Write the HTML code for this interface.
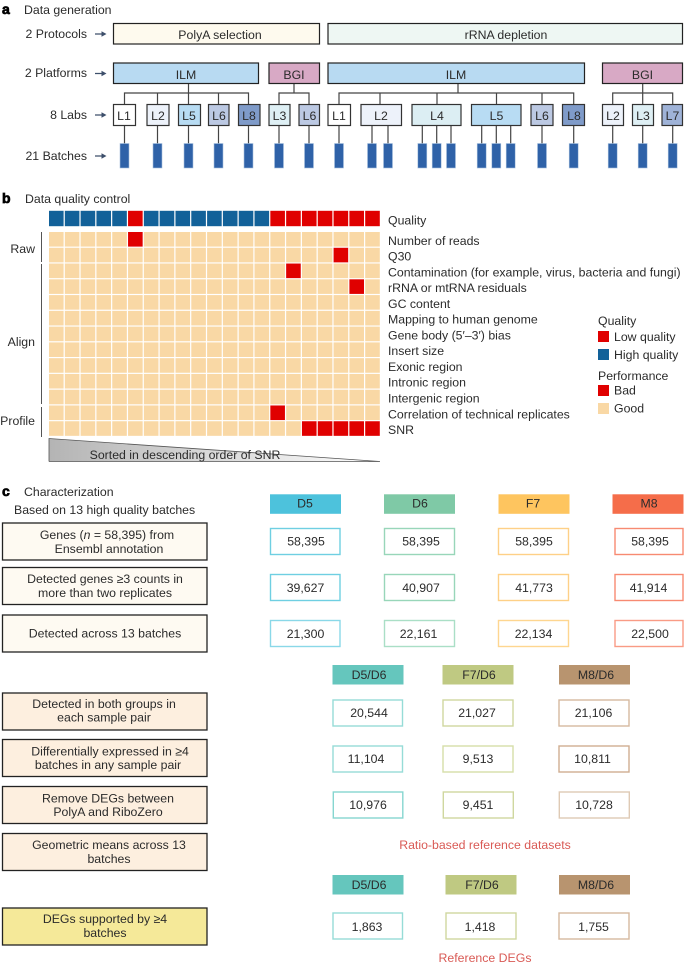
<!DOCTYPE html>
<html lang="en"><head><meta charset="utf-8"><title>Data generation, quality control and characterization</title>
<style>
html,body{margin:0;padding:0;background:#fff}
svg{display:block}
text{font-family:"Liberation Sans",sans-serif;font-size:12.3px;fill:#2b2b2b}
.m{text-anchor:middle}
.e{text-anchor:end}
.h{font-size:14px;font-weight:bold;fill:#000;stroke:#000;stroke-width:.7px}
.red{fill:#d95a55}
.lab{stroke:#333;stroke-width:1.2}
.plat{stroke:#222;stroke-width:1.2}
.bat{fill:#2f62a8;stroke:#a9c2de;stroke-width:.6}
.conn{fill:none;stroke:#444;stroke-width:1.2}
.box{stroke:#222;stroke-width:1.3}
.val{fill:#fff;stroke-width:1.4}
.arrow{fill:none;stroke:#3d4f6b;stroke-width:1.3}
.arrowhead{fill:#3d4f6b}
</style></head>
<body>
<svg id="figure" width="685" height="965" viewBox="0 0 685 965" xmlns="http://www.w3.org/2000/svg">
<defs><linearGradient id="sortGrad" x1="0" x2="1" y1="0" y2="0"><stop offset="0" stop-color="#b4b4b4"/><stop offset="1" stop-color="#ffffff"/></linearGradient></defs>

<g>
<text class="h" x="2" y="14">a</text>
<text x="24" y="14">Data generation</text>
<text class="e" x="87" y="38">2 Protocols</text>
<text class="e" x="87" y="77">2 Platforms</text>
<text class="e" x="87" y="119">8 Labs</text>
<text class="e" x="87" y="160">21 Batches</text>
<g>
<path class="arrow" d="M95 34H103M95 73.500H103M95 115H103M95 156H103"/>
<path class="arrowhead" d="M106.500 34l-5-2.800v5.600zM106.500 73.500l-5-2.800v5.600zM106.500 115l-5-2.800v5.600zM106.500 156l-5-2.800v5.600z"/>
</g>
<g>
<path class="conn" d="M188.500 83.500V104.500M124.500 104.500V93H248.500V104.500M157.500 93V104.500M218.500 93V104.500"/>
<path class="conn" d="M294 83.500V93M279 104.500V93H309V104.500"/>
<path class="conn" d="M458 83.500V93M339 104.500V93H573.700V104.500M380 93V104.500M437 93V104.500M496.500 93V104.500M542 93V104.500"/>
<path class="conn" d="M642.700 83.500V104.500M612.700 104.500V93H672.700V104.500"/>
<path class="conn" d="M124.500 125V144M157.500 125V144M188.500 125V144M218.500 125V144M248.500 125V144M279 125V144M309 125V144M339 125V144M372 125V144M388 125V144M422.300 125V144M436.700 125V144M451 125V144M481.700 125V144M496.300 125V144M510.700 125V144M542 125V144M573.700 125V144M612.700 125V144M642.700 125V144M672.700 125V144"/>
</g>
<rect class="plat" x="113.500" y="23.500" width="206" height="20.500" fill="#fefaee"/>
<text class="m" x="220" y="39">PolyA selection</text>
<rect class="plat" x="328" y="23.500" width="354.500" height="20.500" fill="#eef7f3"/>
<text class="m" x="506" y="39">rRNA depletion</text>

<rect class="plat" x="113.500" y="63" width="145" height="20.500" fill="#b8daf2"/>
<text class="m" x="186" y="79">ILM</text>
<rect class="plat" x="269" y="63" width="50.500" height="20.500" fill="#d8a9c5"/>
<text class="m" x="294" y="79">BGI</text>
<rect class="plat" x="328" y="63" width="256.500" height="20.500" fill="#b8daf2"/>
<text class="m" x="456" y="79">ILM</text>
<rect class="plat" x="602.500" y="63" width="80" height="20.500" fill="#d8a9c5"/>
<text class="m" x="642.500" y="79">BGI</text>

<g>
<rect class="lab" x="113.500" y="104.500" width="22" height="21" fill="#fff"/><text class="m" x="124" y="120">L1</text>
<rect class="lab" x="147" y="104.500" width="22" height="21" fill="#edf2fa"/><text class="m" x="158" y="120">L2</text>
<rect class="lab" x="178.500" y="104.500" width="22" height="21" fill="#b8dcf3"/><text class="m" x="189" y="120">L5</text>
<rect class="lab" x="208.500" y="104.500" width="20.500" height="21" fill="#bcc9e3"/><text class="m" x="219" y="120">L6</text>
<rect class="lab" x="238.500" y="104.500" width="21.500" height="21" fill="#7f9bc9"/><text class="m" x="249" y="120">L8</text>
<rect class="lab" x="269" y="104.500" width="21" height="21" fill="#deeff4"/><text class="m" x="279.500" y="120">L3</text>
<rect class="lab" x="299" y="104.500" width="20.500" height="21" fill="#bcc9e3"/><text class="m" x="309.500" y="120">L6</text>
<rect class="lab" x="328" y="104.500" width="22.500" height="21" fill="#fff"/><text class="m" x="339" y="120">L1</text>
<rect class="lab" x="361" y="104.500" width="40.500" height="21" fill="#edf2fa"/><text class="m" x="381" y="120">L2</text>
<rect class="lab" x="412" y="104.500" width="49" height="21" fill="#dceef3"/><text class="m" x="437" y="120">L4</text>
<rect class="lab" x="471.500" y="104.500" width="49.500" height="21" fill="#b8dcf3"/><text class="m" x="496.500" y="120">L5</text>
<rect class="lab" x="531" y="104.500" width="22" height="21" fill="#bcc9e3"/><text class="m" x="542" y="120">L6</text>
<rect class="lab" x="562.500" y="104.500" width="22" height="21" fill="#7f9bc9"/><text class="m" x="574" y="120">L8</text>
<rect class="lab" x="602.500" y="104.500" width="21" height="21" fill="#edf2fa"/><text class="m" x="613" y="120">L2</text>
<rect class="lab" x="632.500" y="104.500" width="21" height="21" fill="#deeff4"/><text class="m" x="643" y="120">L3</text>
<rect class="lab" x="662" y="104.500" width="20.500" height="21" fill="#9fb3d8"/><text class="m" x="672.500" y="120">L7</text>
</g>
<g>
<rect class="bat" x="120" y="143.500" width="9" height="24.500"/>
<rect class="bat" x="153" y="143.500" width="9" height="24.500"/>
<rect class="bat" x="184" y="143.500" width="9" height="24.500"/>
<rect class="bat" x="214" y="143.500" width="9" height="24.500"/>
<rect class="bat" x="244" y="143.500" width="9" height="24.500"/>
<rect class="bat" x="274.500" y="143.500" width="9" height="24.500"/>
<rect class="bat" x="304.500" y="143.500" width="9" height="24.500"/>
<rect class="bat" x="334.500" y="143.500" width="9" height="24.500"/>
<rect class="bat" x="367.500" y="143.500" width="9" height="24.500"/>
<rect class="bat" x="383.500" y="143.500" width="9" height="24.500"/>
<rect class="bat" x="417.800" y="143.500" width="9" height="24.500"/>
<rect class="bat" x="432.200" y="143.500" width="9" height="24.500"/>
<rect class="bat" x="446.500" y="143.500" width="9" height="24.500"/>
<rect class="bat" x="477.200" y="143.500" width="9" height="24.500"/>
<rect class="bat" x="491.800" y="143.500" width="9" height="24.500"/>
<rect class="bat" x="506.200" y="143.500" width="9" height="24.500"/>
<rect class="bat" x="537.500" y="143.500" width="9" height="24.500"/>
<rect class="bat" x="569.200" y="143.500" width="9" height="24.500"/>
<rect class="bat" x="608.200" y="143.500" width="9" height="24.500"/>
<rect class="bat" x="638.200" y="143.500" width="9" height="24.500"/>
<rect class="bat" x="668.200" y="143.500" width="9" height="24.500"/>
</g>
</g>

<g>
<text class="h" x="2" y="203">b</text>
<text x="25" y="203">Data quality control</text>
<g id="heatmap"></g>
<g>
<path d="M41.500 232V262M41.500 264V404M41.500 407V437" fill="none" stroke="#555" stroke-width="1"/>
<text class="e" x="35" y="253">Raw</text>
<text class="e" x="35" y="346">Align</text>
<text class="e" x="35" y="425">Profile</text>
</g>
<g id="metric-labels"></g>
<polygon points="49,438.500 380,461.500 49,461.500" fill="url(#sortGrad)"/>
<path d="M49 461.500V438.500L380 461.500H49" fill="none" stroke="#555" stroke-width=".8"/>
<text class="m" x="185" y="459">Sorted in descending order of SNR</text>
<g>
<text x="598" y="325">Quality</text>
<rect x="598" y="331" width="11" height="11" fill="#e00000"/>
<text x="614" y="341">Low quality</text>
<rect x="598" y="349" width="11" height="11" fill="#126199"/>
<text x="614" y="359">High quality</text>
<text x="598" y="380">Performance</text>
<rect x="598" y="385" width="11" height="11" fill="#e00000"/>
<text x="614" y="394.500">Bad</text>
<rect x="598" y="403" width="11" height="11" fill="#f9d8a5"/>
<text x="614" y="412.500">Good</text>
</g>
</g>

<g>
<text class="h" x="2" y="496">c</text>
<text x="24" y="496">Characterization</text>
<text x="14" y="514">Based on 13 high quality batches</text>

<g>
<rect class="box" x="2.500" y="523" width="204.500" height="37" fill="#fefaf2"/>
<text class="m" x="107" y="539">Genes (<tspan font-style="italic">n</tspan> = 58,395) from</text>
<text class="m" x="109" y="553">Ensembl annotation</text>
<rect class="box" x="2.500" y="567.500" width="204.500" height="37" fill="#fefaf2"/>
<text class="m" x="105" y="583">Detected genes ≥3 counts in</text>
<text class="m" x="105" y="597">more than two replicates</text>
<rect class="box" x="2.500" y="615" width="204.500" height="37" fill="#fefaf2"/>
<text class="m" x="105" y="637.500">Detected across 13 batches</text>
</g>

<g>
<rect class="box" x="2.500" y="693" width="204.500" height="37" fill="#fdefdf"/>
<text class="m" x="104" y="708">Detected in both groups in</text>
<text class="m" x="104" y="721.500">each sample pair</text>
<rect class="box" x="2.500" y="739.500" width="204.500" height="37" fill="#fdefdf"/>
<text class="m" x="110" y="755.500">Differentially expressed in ≥4</text>
<text class="m" x="108" y="769">batches in any sample pair</text>
<rect class="box" x="2.500" y="786.500" width="204.500" height="37" fill="#fdefdf"/>
<text class="m" x="108" y="802.500">Remove DEGs between</text>
<text class="m" x="108" y="816">PolyA and RiboZero</text>
<rect class="box" x="2.500" y="833.500" width="204.500" height="37" fill="#fdefdf"/>
<text class="m" x="109" y="849">Geometric means across 13</text>
<text class="m" x="109" y="863">batches</text>
<rect class="box" x="2.500" y="908" width="204.500" height="37" fill="#f5e999"/>
<text class="m" x="105" y="923">DEGs supported by ≥4</text>
<text class="m" x="105" y="937">batches</text>
</g>

<g>
<rect x="270" y="494.300" width="71" height="19.500" fill="#4dc2dc"/><text class="m" x="305" y="507.500">D5</text>
<rect x="384" y="494.300" width="71" height="19.500" fill="#7fc9a6"/><text class="m" x="420" y="507.500">D6</text>
<rect x="498.500" y="494.300" width="71" height="19.500" fill="#fec55f"/><text class="m" x="533" y="507.500">F7</text>
<rect x="612.500" y="494.300" width="71" height="19.500" fill="#f56d4a"/><text class="m" x="649" y="507.500">M8</text>

<rect class="val" x="270.500" y="528.500" width="69.500" height="26" stroke="#6fcfe2"/><text class="m" x="306" y="545.500">58,395</text>
<rect class="val" x="384.500" y="528.500" width="70" height="26" stroke="#98d6b9"/><text class="m" x="421" y="545.500">58,395</text>
<rect class="val" x="498.500" y="528.500" width="70" height="26" stroke="#fed087"/><text class="m" x="534" y="545.500">58,395</text>
<rect class="val" x="615" y="528.500" width="68" height="26" stroke="#f78a72"/><text class="m" x="650" y="545.500">58,395</text>

<rect class="val" x="270.500" y="574.500" width="69.500" height="26" stroke="#6fcfe2"/><text class="m" x="305.500" y="592">39,627</text>
<rect class="val" x="384.500" y="574.500" width="70" height="26" stroke="#98d6b9"/><text class="m" x="421" y="592">40,907</text>
<rect class="val" x="498.500" y="574.500" width="70" height="26" stroke="#fed087"/><text class="m" x="534" y="592">41,773</text>
<rect class="val" x="615" y="574.500" width="68" height="26" stroke="#f78a72"/><text class="m" x="648.500" y="592">41,914</text>

<rect class="val" x="270.500" y="620.500" width="69.500" height="26" stroke="#8ad8e8"/><text class="m" x="305.500" y="638">21,300</text>
<rect class="val" x="384.500" y="620.500" width="70" height="26" stroke="#aadfc6"/><text class="m" x="418.500" y="638">22,161</text>
<rect class="val" x="498.500" y="620.500" width="70" height="26" stroke="#fed690"/><text class="m" x="533.500" y="638">22,134</text>
<rect class="val" x="615" y="620.500" width="68" height="26" stroke="#f99b85"/><text class="m" x="650" y="638">22,500</text>
</g>

<g>
<rect x="332.500" y="665" width="71" height="19.500" fill="#65c6bd"/><text class="m" x="369" y="679">D5/D6</text>
<rect x="442.500" y="665" width="71" height="19.500" fill="#bfc982"/><text class="m" x="479" y="679">F7/D6</text>
<rect x="559" y="665" width="71" height="19.500" fill="#b8946f"/><text class="m" x="596" y="679">M8/D6</text>

<rect class="val" x="333" y="700" width="69.500" height="26" stroke="#96dcd7"/><text class="m" x="369" y="717">20,544</text>
<rect class="val" x="443" y="700" width="70" height="26" stroke="#cfd79f"/><text class="m" x="477" y="717">21,027</text>
<rect class="val" x="559" y="700" width="70" height="26" stroke="#d6b99f"/><text class="m" x="593.500" y="717">21,106</text>

<rect class="val" x="333" y="746" width="69.500" height="26" stroke="#96dcd7"/><text class="m" x="366" y="763">11,104</text>
<rect class="val" x="443" y="746" width="70" height="26" stroke="#d6dea9"/><text class="m" x="478" y="763">9,513</text>
<rect class="val" x="559" y="746" width="70" height="26" stroke="#cfae91"/><text class="m" x="592.500" y="763">10,811</text>

<rect class="val" x="333.300" y="792" width="69.500" height="26" stroke="#86d6d0"/><text class="m" x="368" y="809">10,976</text>
<rect class="val" x="443.300" y="792" width="70" height="26" stroke="#cfd79f"/><text class="m" x="478" y="809">9,451</text>
<rect class="val" x="559.300" y="792" width="70" height="26" stroke="#dfcab5"/><text class="m" x="594" y="809">10,728</text>

<text class="m red" x="485" y="849">Ratio-based reference datasets</text>

<rect x="332.500" y="875" width="71" height="19.500" fill="#65c6bd"/><text class="m" x="369" y="889">D5/D6</text>
<rect x="445.500" y="875" width="71" height="19.500" fill="#bfc982"/><text class="m" x="482" y="889">F7/D6</text>
<rect x="559" y="875" width="71" height="19.500" fill="#b8946f"/><text class="m" x="596" y="889">M8/D6</text>

<rect class="val" x="333" y="913" width="69.500" height="26" stroke="#96dcd7"/><text class="m" x="367" y="931">1,863</text>
<rect class="val" x="446" y="913" width="70" height="26" stroke="#cfd79f"/><text class="m" x="480" y="931">1,418</text>
<rect class="val" x="559" y="913" width="70" height="26" stroke="#d6b99f"/><text class="m" x="593.500" y="931">1,755</text>

<text class="m red" x="485" y="962">Reference DEGs</text>
</g>
</g>
</svg>
<script>
// Heatmap data: 1 = high quality / good, 0 = low quality / bad.
const quality = [1,1,1,1,1,0,1,1,1,1,1,1,1,1,0,0,0,0,0,0,0];
const metrics = ["Number of reads","Q30","Contamination (for example, virus, bacteria and fungi)","rRNA or mtRNA residuals","GC content","Mapping to human genome","Gene body (5′–3′) bias","Insert size","Exonic region","Intronic region","Intergenic region","Correlation of technical replicates","SNR"];
const numberOfReads = [1,1,1,1,1,0,1,1,1,1,1,1,1,1,1,1,1,1,1,1,1];
const q30 = [1,1,1,1,1,1,1,1,1,1,1,1,1,1,1,1,1,1,0,1,1];
const contamination = [1,1,1,1,1,1,1,1,1,1,1,1,1,1,1,0,1,1,1,1,1];
const residuals = [1,1,1,1,1,1,1,1,1,1,1,1,1,1,1,1,1,1,1,0,1];
const gcContent = [1,1,1,1,1,1,1,1,1,1,1,1,1,1,1,1,1,1,1,1,1];
const mapping = [1,1,1,1,1,1,1,1,1,1,1,1,1,1,1,1,1,1,1,1,1];
const geneBody = [1,1,1,1,1,1,1,1,1,1,1,1,1,1,1,1,1,1,1,1,1];
const insertSize = [1,1,1,1,1,1,1,1,1,1,1,1,1,1,1,1,1,1,1,1,1];
const exonic = [1,1,1,1,1,1,1,1,1,1,1,1,1,1,1,1,1,1,1,1,1];
const intronic = [1,1,1,1,1,1,1,1,1,1,1,1,1,1,1,1,1,1,1,1,1];
const intergenic = [1,1,1,1,1,1,1,1,1,1,1,1,1,1,1,1,1,1,1,1,1];
const correlation = [1,1,1,1,1,1,1,1,1,1,1,1,1,1,0,1,1,1,1,1,1];
const snr = [1,1,1,1,1,1,1,1,1,1,1,1,1,1,1,1,0,0,0,0,0];
const performance = [numberOfReads,q30,contamination,residuals,gcContent,mapping,geneBody,insertSize,exonic,intronic,intergenic,correlation,snr];

const NS = "http://www.w3.org/2000/svg";
const xCol = c => 49 + c * 15.81;
const yRow = r => 232 + r * 15.77;
const cellW = 14.6, cellH = 14.6;
const heatmap = document.getElementById("heatmap");
const labels = document.getElementById("metric-labels");

quality.forEach((v, c) => {
  const el = document.createElementNS(NS, "rect");
  el.setAttribute("x", xCol(c));
  el.setAttribute("y", 210.8);
  el.setAttribute("width", cellW);
  el.setAttribute("height", 15.4);
  el.setAttribute("fill", v ? "#126199" : "#e00000");
  
  
  heatmap.appendChild(el);
});

performance.forEach((row, r) => {
  row.forEach((v, c) => {
    const el = document.createElementNS(NS, "rect");
    el.setAttribute("x", xCol(c));
    el.setAttribute("y", yRow(r));
    el.setAttribute("width", cellW);
    el.setAttribute("height", cellH);
    el.setAttribute("fill", v ? "#f9d8a5" : "#e00000");
    
    
    heatmap.appendChild(el);
  });
});

const qualityLabel = document.createElementNS(NS, "text");
qualityLabel.setAttribute("x", 388);
qualityLabel.setAttribute("y", 224.5);
qualityLabel.textContent = "Quality";


labels.appendChild(qualityLabel);

metrics.forEach((name, r) => {
  const el = document.createElementNS(NS, "text");
  el.setAttribute("x", 388);
  el.setAttribute("y", yRow(r) + 12.8);
  el.textContent = name;
  
  
  labels.appendChild(el);
});
</script>
</body></html>
